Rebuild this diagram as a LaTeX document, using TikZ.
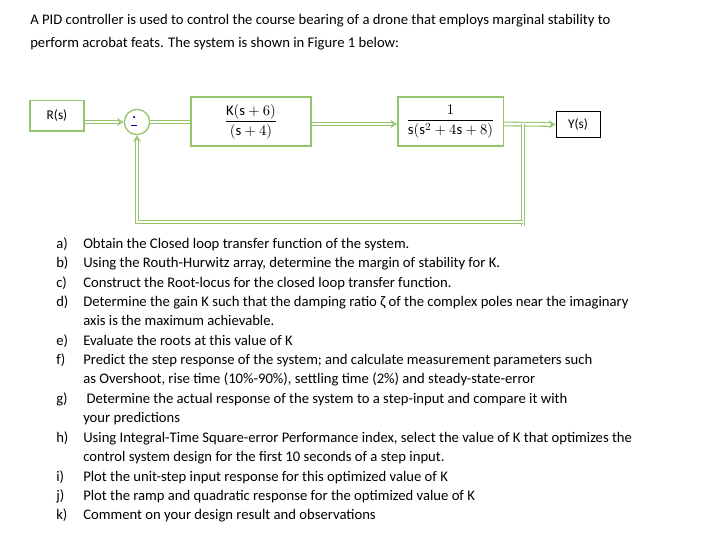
\documentclass[tikz,border=0pt]{standalone}
\usepackage{amsmath}
\usepackage{fontspec}
\setmainfont{Carlito}
\usetikzlibrary{arrows.meta}
\definecolor{gr}{RGB}{150,195,110}
\begin{document}
\begin{tikzpicture}[x=0.75pt,y=-0.75pt,
  blk/.style={draw=gr,line width=1pt,minimum height=36.75pt,inner sep=0pt,font=\fontsize{11}{13}\selectfont},
  dbl/.style={draw=gr,double=white,double distance=2pt,line width=0.8pt,-{Stealth[length=5pt,width=6pt,open]}},
  dbn/.style={draw=gr,double=white,double distance=2pt,line width=0.8pt},
  ln/.style={anchor=base west,inner sep=0pt,font=\fontsize{11}{13}\selectfont}]
\useasboundingbox (0,0) rectangle (704,554);
\node[ln] (t1) at (30,24) {A PID controller is used to control the course bearing of a drone that employs marginal stability to};
\node[ln] (t2) at (30,47) {perform acrobat feats. The system is shown in Figure 1 below:};
\node[draw=gr,line width=1pt,minimum width=40.5pt,minimum height=23pt,font=\fontsize{10}{12}\selectfont] (r) at (57,115.5) {R(s)};
\node[draw=gr,line width=1pt,circle,minimum size=19pt,inner sep=0pt] (sum) at (137,122) {};
\fill[blue!60!black] (133,116.5) rectangle (135,117.5) (133.5,116) rectangle (134.5,118);
\fill[blue!60!black] (131,124.5) rectangle (137,126);
\node[blk,minimum width=90pt] (g1) at (251,121.5) {$\dfrac{\mathrm{K}(\mathrm{s}+6)}{(\mathrm{s}+4)}$};
\node[blk,minimum width=79pt] (g2) at (450.5,121.5) {$\dfrac{1}{\mathrm{s}(\mathrm{s}^2+4\mathrm{s}+8)}$};
\node[draw=black,line width=0.6pt,minimum width=33pt,minimum height=19pt,font=\fontsize{10}{12}\selectfont] (y) at (578,124.5) {Y(s)};
\coordinate (b) at (523,124);
\coordinate (c) at (523,222);
\coordinate (d) at (137,222);
\draw[dbl] (r.east |- 0,122) -- (sum.west);
\draw[dbn] (sum.east) -- (g1.west |- sum.east);
\draw[dbl] (g1.east |- 0,124) -- (g2.west |- 0,124);
\draw[dbl] (g2.east |- 0,124) -- (y.west);
\draw[dbn] (b) -- (523,226);
\draw[dbl] (c) -- (d) -- (sum.south);
\foreach \y/\l/\t in {
 248/a)/{Obtain the Closed loop transfer function of the system.},
 267/b)/{Using the Routh-Hurwitz array, determine the margin of stability for K.},
 287/c)/{Construct the Root-locus for the closed loop transfer function.},
 306/d)/{Determine the gain K such that the damping ratio ζ of the complex poles near the imaginary},
 345/e)/{Evaluate the roots at this value of K},
 364/f)/{Predict the step response of the system; and calculate measurement parameters such},
 403/g)/{\ Determine the actual response of the system to a step-input and compare it with},
 442/h)/{Using Integral-Time Square-error Performance index, select the value of K that optimizes the},
 481/i)/{Plot the unit-step input response for this optimized value of K},
 500/j)/{Plot the ramp and quadratic response for the optimized value of K},
 519/k)/{Comment on your design result and observations}}
 {\node[ln] at (56,\y) {\l}; \node[ln] at (83,\y) {\t};}
\foreach \y/\t in {325/{axis is the maximum achievable.},
 383/{as Overshoot, rise time (10\%-90\%), settling time (2\%) and steady-state-error},
 422/{your predictions},
 461/{control system design for the first 10 seconds of a step input.}}
 {\node[ln] at (83,\y) {\t};}
\end{tikzpicture}
\end{document}
